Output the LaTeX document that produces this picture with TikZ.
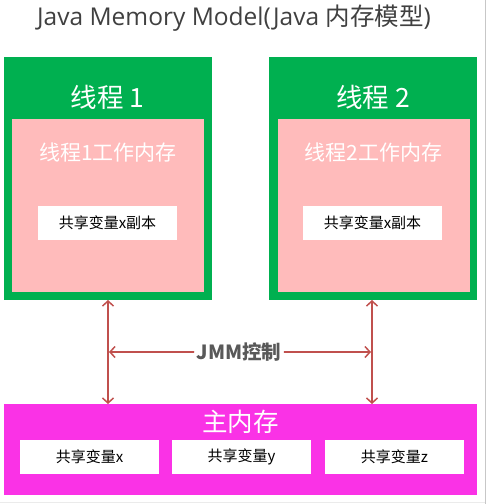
\documentclass[tikz,border=0pt]{standalone}
\usepackage{fontspec}
\setmainfont{Noto Sans CJK SC}
\newfontfamily\latinfont{Open Sans}
\usetikzlibrary{arrows.meta,positioning}
\definecolor{thrgreen}{HTML}{00B050}
\definecolor{wmpink}{HTML}{FFBBBB}
\definecolor{mainmag}{HTML}{FA32E6}
\definecolor{jmmred}{HTML}{C0504D}
\definecolor{titlegray}{HTML}{404040}
\definecolor{jmmgray}{HTML}{595959}

\begin{document}
\begin{tikzpicture}[x=1pt,y=-1pt,line cap=round,line join=round,
  box/.style={inner sep=0pt,outer sep=0pt,draw=none},
  threadbox/.style={box,fill=thrgreen,minimum width=208pt,minimum height=243pt},
  workbox/.style={box,fill=wmpink,minimum width=192pt,minimum height=173pt},
  varbox/.style={box,fill=white,minimum width=139pt,minimum height=34pt,font=\fontsize{15}{17}\selectfont,text=black},
  mainbox/.style={box,fill=mainmag,minimum width=473pt,minimum height=91pt},
  jmmarrow/.style={draw=jmmred,line width=1.5pt,{Straight Barb[length=5pt,width=11pt]}-{Straight Barb[length=5pt,width=11pt]}},
  halfarrow/.style={draw=jmmred,line width=1.5pt,-{Straight Barb[length=5pt,width=11pt]}}]
\path[use as bounding box] (0,0) rectangle (487,504);
\draw[black!22,line width=1.5pt,line cap=butt] (485.5,0) -- (485.5,504);
\draw[black!8,line width=1pt,line cap=butt] (0,502.5) -- (485,502.5);
% title
\node[box,text=titlegray,font=\fontsize{24.5}{27}\selectfont] (title) at (234,18) {{\latinfont Java Memory Model(Java }内存模型{\latinfont )}};
% threads
\node[threadbox] (t1) at (107.5,178.5) {};
\node[threadbox] (t2) at (373,178.5) {};
\node[workbox] (w1) at (108,205.5) {};
\node[workbox] (w2) at (373.5,205.5) {};
\node[box,text=white,font=\fontsize{26.5}{29}\selectfont] (t1lbl) at (107.5,97) {线程 1};
\node[box,text=white,font=\fontsize{26.5}{29}\selectfont] (t2lbl) at (373,97) {线程 2};
\node[box,text=white,font=\fontsize{21}{24}\selectfont] (w1lbl) at (108,153) {线程1工作内存};
\node[box,text=white,font=\fontsize{21}{24}\selectfont] (w2lbl) at (373.5,153) {线程2工作内存};
\node[varbox] (c1) at (107.5,222.5) {共享变量x副本};
\node[varbox] (c2) at (372.5,222.5) {共享变量x副本};
% main memory
\node[mainbox] (main) at (240.5,449.5) {};
\node[box,text=white,font=\fontsize{25.5}{28}\selectfont] (mainlbl) at (240.5,422) {主内存};
\node[varbox] (vx) at (89.5,457) {共享变量x};
\node[varbox] (vy) at (241.5,457) {共享变量y};
\node[varbox] (vz) at (394.5,457) {共享变量z};
% JMM
\draw[jmmarrow] (t1.south -| 108,0) -- (main.north -| 108,0);
\draw[jmmarrow] (t2.south -| 372,0) -- (main.north -| 372,0);
\node[box,inner sep=3pt,text=jmmgray,font=\bfseries\fontsize{19.5}{22}\selectfont] (jmm) at (239,352) {JMM控制};
\coordinate (jl) at (109,352);
\coordinate (jr) at (371,352);
\draw[halfarrow] (jmm.west) -- (jl);
\draw[halfarrow] (jmm.east) -- (jr);
\end{tikzpicture}
\end{document}
